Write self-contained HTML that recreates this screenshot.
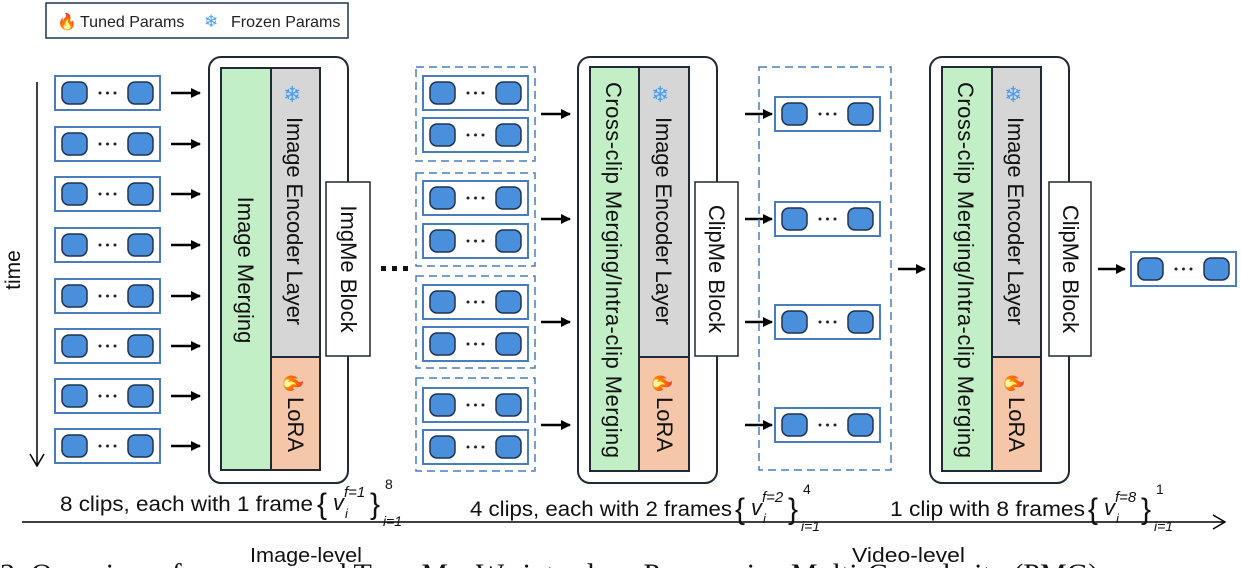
<!DOCTYPE html>
<html><head><meta charset="utf-8"><style>
html,body{margin:0;padding:0;background:#fff;width:1241px;height:568px;overflow:hidden;}
svg{display:block;font-family:"Liberation Sans",sans-serif;}
</style></head><body>
<svg width="1241" height="568" viewBox="0 0 1241 568" xmlns="http://www.w3.org/2000/svg">
<defs>
<g id="tok">
<rect x="0" y="0" width="105" height="34" fill="#fff" stroke="#4a7ebb" stroke-width="2"/>
<rect x="7" y="6" width="25" height="22" rx="7" fill="#4a8fdc" stroke="#1f3350" stroke-width="1.5"/>
<rect x="73" y="6" width="25" height="22" rx="7" fill="#4a8fdc" stroke="#1f3350" stroke-width="1.5"/>
<circle cx="45" cy="17" r="1.5" fill="#222"/><circle cx="52.5" cy="17" r="1.5" fill="#222"/><circle cx="60" cy="17" r="1.5" fill="#222"/>
</g>
<marker id="ah" markerWidth="10" markerHeight="10" refX="9" refY="5" orient="auto" markerUnits="userSpaceOnUse">
<path d="M0,0 L10,5 L0,10 z" fill="#000"/></marker>
<marker id="oa" markerWidth="14" markerHeight="16" refX="13" refY="8" orient="auto" markerUnits="userSpaceOnUse">
<path d="M1,1 L13,8 L1,15" fill="none" stroke="#000" stroke-width="1.5"/></marker>
</defs>

<rect x="46" y="3" width="302" height="35" fill="#fff" stroke="#1f3350" stroke-width="1.5"/>
<text x="57" y="27" font-size="16" fill="#e8503a">&#128293;</text>
<text x="80" y="27" font-size="16" fill="#222">Tuned Params</text>
<text x="204" y="27" font-size="17" fill="#4a9cf0">&#10052;</text>
<text x="231" y="27" font-size="16" fill="#222">Frozen Params</text>

<line x1="37" y1="82" x2="37" y2="466" stroke="#000" stroke-width="1.5" marker-end="url(#oa)"/>
<text transform="translate(20,270) rotate(-90)" font-size="21" text-anchor="middle" fill="#111">time</text>

<use href="#tok" x="55" y="76"/><use href="#tok" x="55" y="127"/><use href="#tok" x="55" y="177"/><use href="#tok" x="55" y="228"/>
<use href="#tok" x="55" y="279"/><use href="#tok" x="55" y="329"/><use href="#tok" x="55" y="379"/><use href="#tok" x="55" y="429"/>
<g stroke="#000" stroke-width="2.5" marker-end="url(#ah)">
<line x1="171" y1="93" x2="200" y2="93"/><line x1="171" y1="144" x2="200" y2="144"/><line x1="171" y1="194" x2="200" y2="194"/><line x1="171" y1="245" x2="200" y2="245"/>
<line x1="171" y1="296" x2="200" y2="296"/><line x1="171" y1="346" x2="200" y2="346"/><line x1="171" y1="396" x2="200" y2="396"/><line x1="171" y1="446" x2="200" y2="446"/>
</g>

<rect x="209" y="57" width="139" height="426" rx="12" fill="#fff" stroke="#1f2a36" stroke-width="2"/>
<rect x="221" y="68" width="50" height="402" fill="#c2efc6" stroke="#1f2a36" stroke-width="2"/>
<rect x="271" y="68" width="49" height="289" fill="#d6d6d6" stroke="#1f2a36" stroke-width="2"/>
<rect x="271" y="357" width="49" height="113" fill="#f5c6a8" stroke="#1f2a36" stroke-width="2"/>
<text x="283" y="102" font-size="22" fill="#4a9cf0">&#10052;</text>
<text transform="translate(287,117) rotate(90)" font-size="22" textLength="208" fill="#111">Image Encoder Layer</text>
<text transform="translate(287,372) rotate(90)" font-size="18">&#128293;</text>
<text transform="translate(288,397) rotate(90)" font-size="22" fill="#111">LoRA</text>
<text transform="translate(238,270) rotate(90)" font-size="22" text-anchor="middle" fill="#111">Image Merging</text>
<rect x="326" y="182" width="44" height="174" fill="#fff" stroke="#1f2a36" stroke-width="1.5"/>
<text transform="translate(341,269) rotate(90)" font-size="22" text-anchor="middle" fill="#111">ImgMe Block</text>

<rect x="381" y="266" width="5" height="5" fill="#111"/><rect x="392" y="266" width="5" height="5" fill="#111"/><rect x="403" y="266" width="5" height="5" fill="#111"/>

<g fill="none" stroke="#4a7ebb" stroke-width="1.5" stroke-dasharray="8,5">
<rect x="416" y="67" width="119" height="94"/><rect x="416" y="173" width="119" height="93"/>
<rect x="416" y="276" width="119" height="92"/><rect x="416" y="378" width="119" height="93"/>
</g>
<use href="#tok" x="423" y="76"/><use href="#tok" x="423" y="118"/>
<use href="#tok" x="423" y="181"/><use href="#tok" x="423" y="224"/>
<use href="#tok" x="423" y="285"/><use href="#tok" x="423" y="327"/>
<use href="#tok" x="423" y="388"/><use href="#tok" x="423" y="430"/>
<g stroke="#000" stroke-width="2.5" marker-end="url(#ah)">
<line x1="541" y1="114" x2="570" y2="114"/><line x1="541" y1="219" x2="570" y2="219"/>
<line x1="541" y1="322" x2="570" y2="322"/><line x1="541" y1="425" x2="570" y2="425"/>
</g>

<rect x="578" y="57" width="139" height="426" rx="12" fill="#fff" stroke="#1f2a36" stroke-width="2"/>
<rect x="590" y="67" width="49" height="404" fill="#c2efc6" stroke="#1f2a36" stroke-width="2"/>
<rect x="639" y="67" width="50" height="290" fill="#d6d6d6" stroke="#1f2a36" stroke-width="2"/>
<rect x="639" y="357" width="50" height="114" fill="#f5c6a8" stroke="#1f2a36" stroke-width="2"/>
<text x="651" y="102" font-size="22" fill="#4a9cf0">&#10052;</text>
<text transform="translate(656,117) rotate(90)" font-size="22" textLength="208" fill="#111">Image Encoder Layer</text>
<text transform="translate(656,372) rotate(90)" font-size="18">&#128293;</text>
<text transform="translate(657,397) rotate(90)" font-size="22" fill="#111">LoRA</text>
<text transform="translate(606,82) rotate(90)" font-size="22" textLength="376" fill="#111">Cross-clip Merging/Intra-clip Merging</text>
<rect x="695" y="182" width="43" height="174" fill="#fff" stroke="#1f2a36" stroke-width="1.5"/>
<text transform="translate(709,269) rotate(90)" font-size="22" text-anchor="middle" fill="#111">ClipMe Block</text>

<g stroke="#000" stroke-width="2.5" marker-end="url(#ah)">
<line x1="745" y1="114" x2="772" y2="114"/><line x1="745" y1="219" x2="772" y2="219"/>
<line x1="745" y1="322" x2="772" y2="322"/><line x1="745" y1="425" x2="772" y2="425"/>
</g>
<rect x="759" y="67" width="132" height="403" fill="none" stroke="#4a7ebb" stroke-width="1.5" stroke-dasharray="8,5"/>
<use href="#tok" x="775" y="97"/><use href="#tok" x="775" y="202"/>
<use href="#tok" x="775" y="305"/><use href="#tok" x="775" y="408"/>

<line x1="898" y1="269" x2="925" y2="269" stroke="#000" stroke-width="2.5" marker-end="url(#ah)"/>

<rect x="930" y="57" width="139" height="426" rx="12" fill="#fff" stroke="#1f2a36" stroke-width="2"/>
<rect x="942" y="67" width="50" height="404" fill="#c2efc6" stroke="#1f2a36" stroke-width="2"/>
<rect x="992" y="67" width="49" height="290" fill="#d6d6d6" stroke="#1f2a36" stroke-width="2"/>
<rect x="992" y="357" width="49" height="114" fill="#f5c6a8" stroke="#1f2a36" stroke-width="2"/>
<text x="1004" y="102" font-size="22" fill="#4a9cf0">&#10052;</text>
<text transform="translate(1008,117) rotate(90)" font-size="22" textLength="208" fill="#111">Image Encoder Layer</text>
<text transform="translate(1008,372) rotate(90)" font-size="18">&#128293;</text>
<text transform="translate(1009,397) rotate(90)" font-size="22" fill="#111">LoRA</text>
<text transform="translate(958,82) rotate(90)" font-size="22" textLength="376" fill="#111">Cross-clip Merging/Intra-clip Merging</text>
<rect x="1049" y="182" width="42" height="174" fill="#fff" stroke="#1f2a36" stroke-width="1.5"/>
<text transform="translate(1063,269) rotate(90)" font-size="22" text-anchor="middle" fill="#111">ClipMe Block</text>

<line x1="1098" y1="269" x2="1125" y2="269" stroke="#000" stroke-width="2.5" marker-end="url(#ah)"/>
<use href="#tok" x="1131" y="252"/>

<line x1="22" y1="522" x2="1225" y2="522" stroke="#000" stroke-width="1.5" marker-end="url(#oa)"/>
<g font-size="21" fill="#111">
<text x="60" y="511" textLength="253" lengthAdjust="spacingAndGlyphs">8 clips, each with 1 frame</text>
<text x="470" y="516" textLength="262" lengthAdjust="spacingAndGlyphs">4 clips, each with 2 frames</text>
<text x="890" y="516" textLength="195" lengthAdjust="spacingAndGlyphs">1 clip with 8 frames</text>
</g>
<g font-family="Liberation Sans,sans-serif" fill="#111">
<text x="317" y="514" font-size="30">{</text><text x="333" y="510" font-size="22" font-style="italic">v</text>
<text x="345" y="518" font-size="13" font-style="italic">i</text><text x="344" y="497" font-size="15" font-style="italic">f=1</text>
<text x="370" y="514" font-size="30">}</text><text x="385" y="489" font-size="14">8</text><text x="383" y="526" font-size="14" font-style="italic">i=1</text>

<text x="735" y="519" font-size="30">{</text><text x="751" y="515" font-size="22" font-style="italic">v</text>
<text x="763" y="523" font-size="13" font-style="italic">i</text><text x="762" y="502" font-size="15" font-style="italic">f=2</text>
<text x="788" y="519" font-size="30">}</text><text x="803" y="494" font-size="14">4</text><text x="801" y="531" font-size="14" font-style="italic">i=1</text>

<text x="1088" y="519" font-size="30">{</text><text x="1104" y="515" font-size="22" font-style="italic">v</text>
<text x="1116" y="523" font-size="13" font-style="italic">i</text><text x="1115" y="502" font-size="15" font-style="italic">f=8</text>
<text x="1141" y="519" font-size="30">}</text><text x="1156" y="494" font-size="14">1</text><text x="1154" y="531" font-size="14" font-style="italic">i=1</text>
</g>
<g font-size="20" fill="#111">
<text x="250" y="562" textLength="112" lengthAdjust="spacingAndGlyphs">Image-level</text>
<text x="852" y="562" textLength="113" lengthAdjust="spacingAndGlyphs">Video-level</text>
</g>
<text x="0" y="584" font-family="Liberation Serif,serif" font-size="30" fill="#111">3: Overview of our proposed TempMe. We introduce Progressive Multi-Granularity (PMG)</text>
</svg>
</body></html>
